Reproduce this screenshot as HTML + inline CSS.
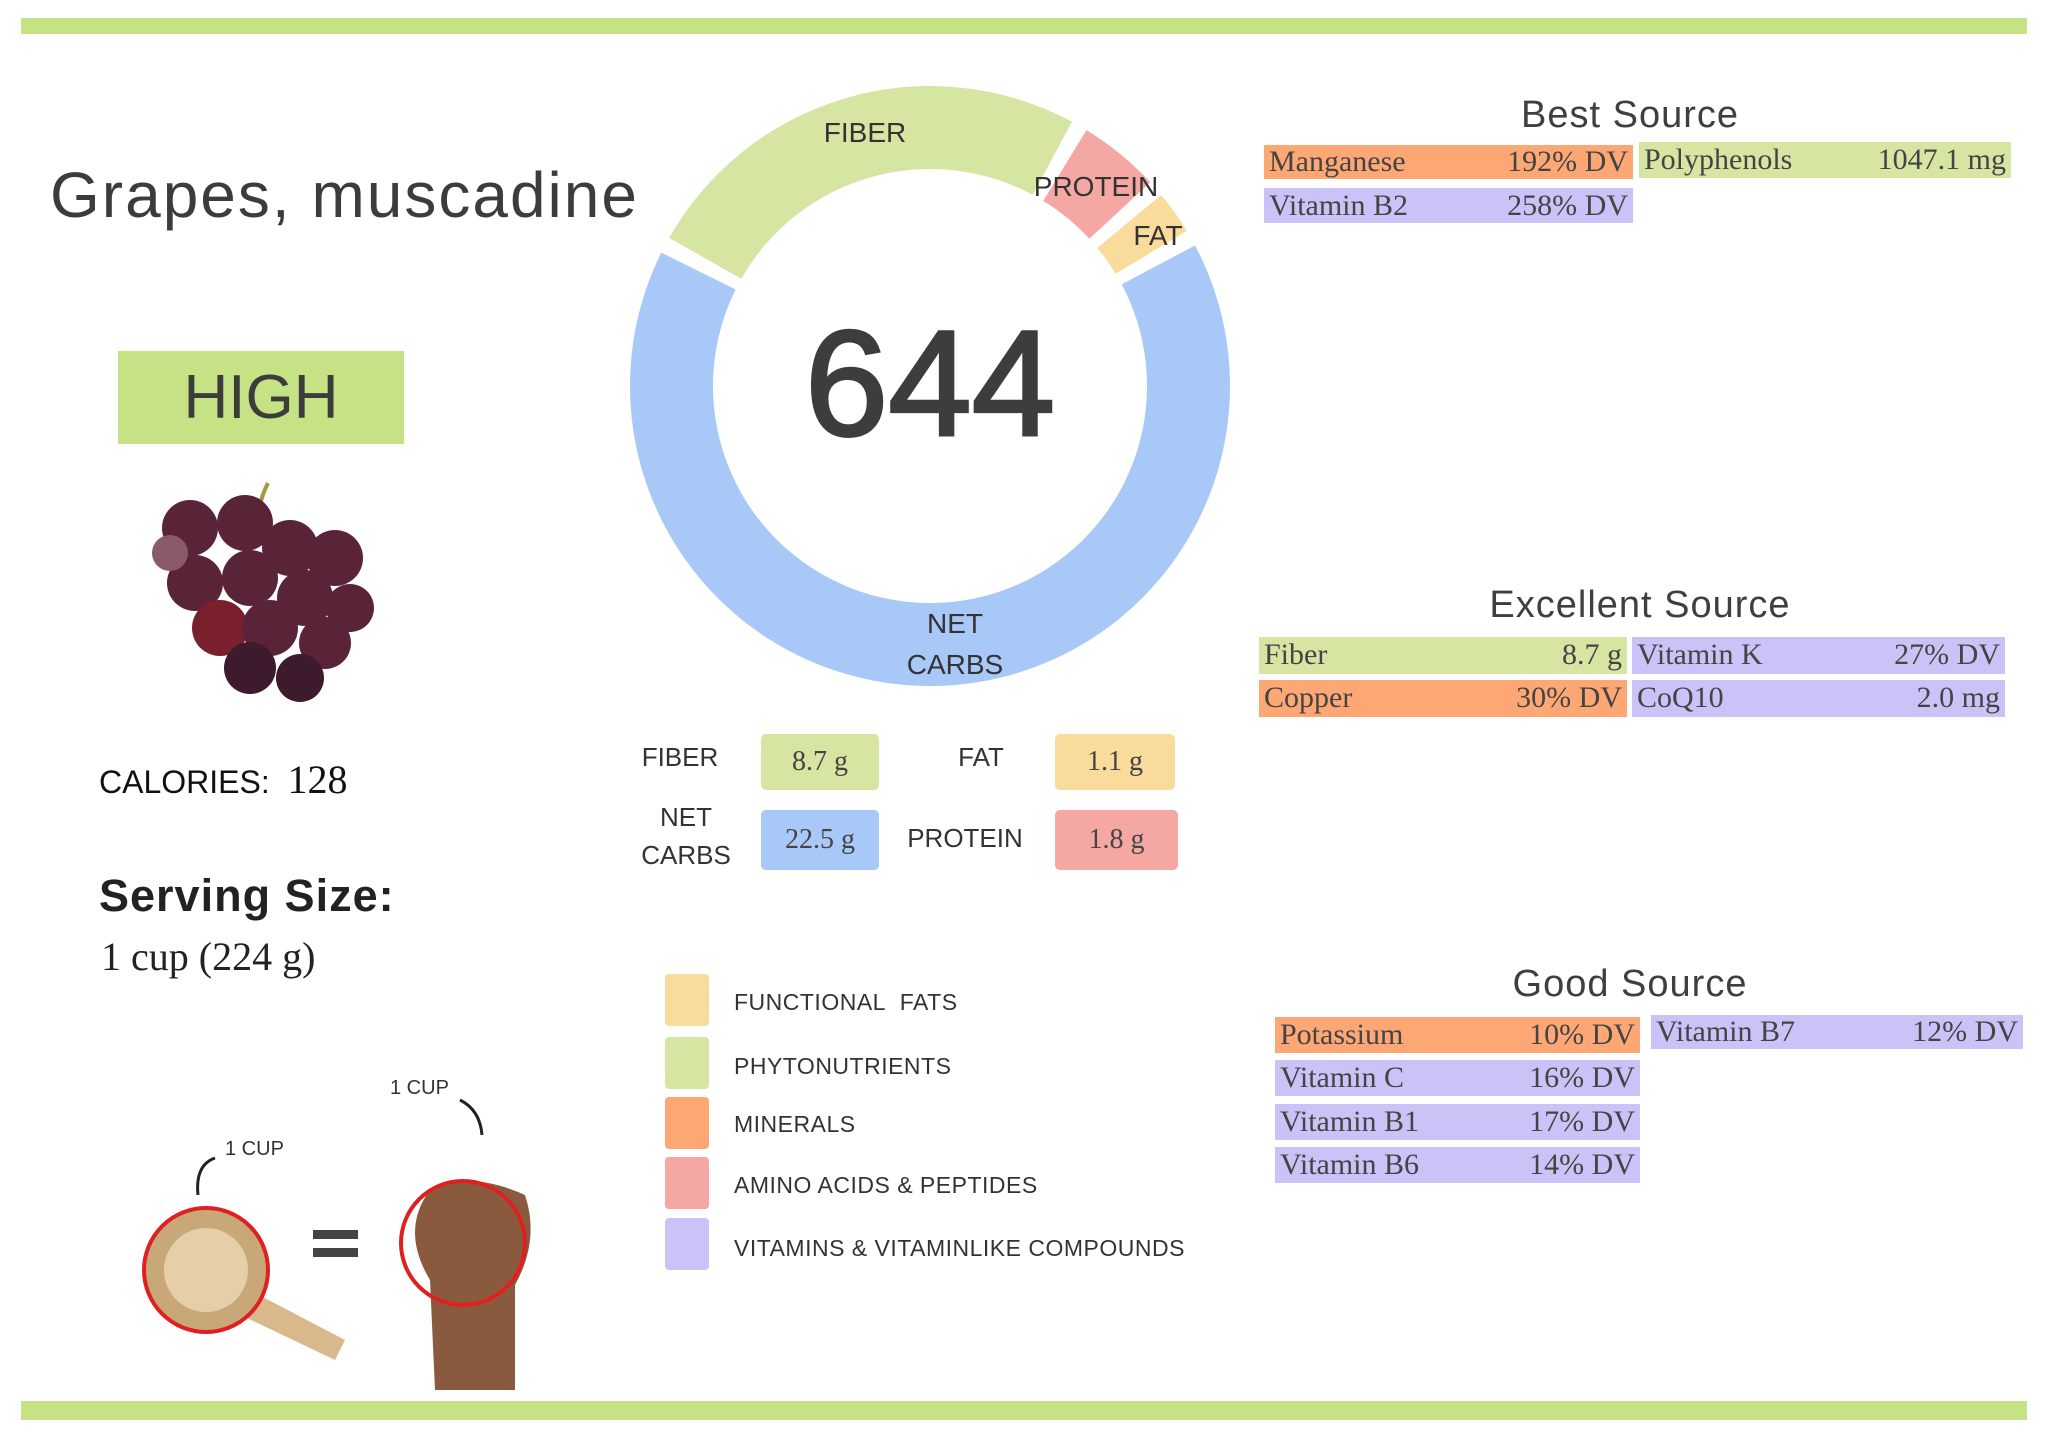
<!DOCTYPE html>
<html><head><meta charset="utf-8"><style>
body{margin:0;background:#fff}
#root{position:relative;width:2048px;height:1441px;overflow:hidden;font-family:"Liberation Sans",sans-serif;color:#3c3c3c}
.abs{position:absolute}
.row{position:absolute;height:36px;font-family:"Liberation Serif",serif;font-size:30px;line-height:36px;color:#444;box-sizing:border-box;padding:0 5px}
.row span{position:absolute;right:5px;top:0}
.or{background:#fda874}.gr{background:#d6e6a2}.pu{background:#cbc3f7}
.h{position:absolute;font-size:38px;text-align:center;width:500px;color:#3f3f3f;letter-spacing:1px}
.lab{position:absolute;font-size:26px;text-align:center;color:#333;line-height:38px}
.box{position:absolute;border-radius:5px;font-family:"Liberation Serif",serif;font-size:28px;text-align:center;color:#444}
.lg{position:absolute;left:665px;width:44px;height:52px;border-radius:4px}
.lt{position:absolute;left:734px;font-size:23px;color:#333;letter-spacing:0.5px}
</style></head><body>
<div id="root">
<div class="abs" style="left:21px;top:18px;width:2006px;height:16px;background:#c5e384"></div>
<div class="abs" style="left:21px;top:1401px;width:2006px;height:19px;background:#c5e384"></div>
<div class="abs" style="left:50px;top:158px;font-size:64px;letter-spacing:2px">Grapes, muscadine</div>
<div class="abs" style="left:118px;top:351px;width:286px;height:93px;background:#c5e384;font-size:62px;line-height:93px;text-align:center">HIGH</div>
<svg class="abs" style="left:150px;top:478px" width="230" height="225" viewBox="0 0 230 225">
<path d="M105 50 Q110 20 118 5" stroke="#a89a3a" stroke-width="4" fill="none"/>
<g fill="#5a2438">
<circle cx="40" cy="50" r="28"/><circle cx="95" cy="45" r="28"/><circle cx="140" cy="70" r="28"/><circle cx="185" cy="80" r="28"/>
<circle cx="45" cy="105" r="28"/><circle cx="100" cy="100" r="28"/><circle cx="155" cy="120" r="28"/><circle cx="200" cy="130" r="24"/>
<circle cx="70" cy="150" r="28" fill="#7a1f2c"/><circle cx="120" cy="150" r="28"/><circle cx="175" cy="165" r="26"/>
<circle cx="100" cy="190" r="26" fill="#3e1a2e"/><circle cx="150" cy="200" r="24" fill="#3e1a2e"/><circle cx="20" cy="75" r="18" fill="#8a5a6a"/>
</g></svg>
<div class="abs" style="left:99px;top:756px;font-size:32px;color:#111">CALORIES:&nbsp; <span style="font-family:'Liberation Serif',serif;font-size:40px">128</span></div>
<div class="abs" style="left:99px;top:870px;font-size:45px;font-weight:bold;color:#222;letter-spacing:1px">Serving Size:</div>
<div class="abs" style="left:101px;top:933px;font-size:40px;font-family:'Liberation Serif',serif;color:#222">1 cup (224 g)</div>
<svg class="abs" style="left:130px;top:1070px" width="420" height="320">
<text x="95" y="85" font-size="20" fill="#333" font-family="Liberation Sans">1 CUP</text>
<text x="260" y="24" font-size="20" fill="#333" font-family="Liberation Sans">1 CUP</text>
<path d="M85 88 Q65 95 68 125" stroke="#222" stroke-width="3" fill="none"/>
<path d="M330 30 Q350 40 352 65" stroke="#222" stroke-width="3" fill="none"/>
<path d="M110 215 L215 270 L205 290 L100 240Z" fill="#d9b98c"/>
<circle cx="76" cy="200" r="62" fill="#c8a879" stroke="#e02020" stroke-width="4"/>
<circle cx="76" cy="200" r="42" fill="#e6cfa8"/>
<rect x="183" y="160" width="45" height="9" fill="#444"/><rect x="183" y="178" width="45" height="9" fill="#444"/>
<path d="M300 120 Q340 100 395 125 Q410 170 385 215 L385 320 L305 320 L300 210 Q270 160 300 120Z" fill="#8a5a3e"/>
<circle cx="333" cy="173" r="62" fill="none" stroke="#e02020" stroke-width="4"/>
</svg>
<svg class="abs" style="left:0;top:0" width="2048" height="720" id="donut"></svg>
<div class="abs" style="left:730px;top:298px;width:400px;text-align:center;font-size:150px;color:#3d3d3d;line-height:170px;-webkit-text-stroke:3px #3d3d3d">644</div>
<div class="lab" style="left:620px;top:738px;width:120px">FIBER</div>
<div class="box gr" style="left:761px;top:734px;width:118px;height:56px;line-height:56px">8.7 g</div>
<div class="lab" style="left:921px;top:738px;width:120px">FAT</div>
<div class="box" style="left:1055px;top:734px;width:120px;height:56px;line-height:56px;background:#f9dc9b">1.1 g</div>
<div class="lab" style="left:626px;top:798px;width:120px">NET<br>CARBS</div>
<div class="box" style="left:761px;top:810px;width:118px;height:60px;line-height:60px;background:#a8c8f8">22.5 g</div>
<div class="lab" style="left:895px;top:819px;width:140px">PROTEIN</div>
<div class="box" style="left:1055px;top:810px;width:123px;height:60px;line-height:60px;background:#f4a7a3">1.8 g</div>
<div class="lg" style="top:974px;background:#f9dc9b"></div>
<div class="lt" style="top:989px">FUNCTIONAL&nbsp; FATS</div>
<div class="lg" style="top:1037px;background:#d6e6a2"></div>
<div class="lt" style="top:1053px">PHYTONUTRIENTS</div>
<div class="lg" style="top:1097px;background:#fda874"></div>
<div class="lt" style="top:1111px">MINERALS</div>
<div class="lg" style="top:1157px;background:#f4a7a3"></div>
<div class="lt" style="top:1172px">AMINO ACIDS &amp; PEPTIDES</div>
<div class="lg" style="top:1218px;background:#cbc3f7"></div>
<div class="lt" style="top:1235px">VITAMINS &amp; VITAMINLIKE COMPOUNDS</div>

<div class="h" style="left:1380px;top:94px">Best Source</div>
<div class="row or" style="left:1264px;top:145px;width:369px;height:34px;line-height:34px">Manganese<span>192% DV</span></div>
<div class="row gr" style="left:1639px;top:142px;width:372px;height:36px;line-height:36px">Polyphenols<span>1047.1 mg</span></div>
<div class="row pu" style="left:1264px;top:188px;width:369px;height:35px;line-height:35px">Vitamin B2<span>258% DV</span></div>

<div class="h" style="left:1390px;top:584px">Excellent Source</div>
<div class="row gr" style="left:1259px;top:637px;width:368px;height:37px">Fiber<span>8.7 g</span></div>
<div class="row pu" style="left:1632px;top:637px;width:373px;height:37px">Vitamin K<span>27% DV</span></div>
<div class="row or" style="left:1259px;top:680px;width:368px;height:37px">Copper<span>30% DV</span></div>
<div class="row pu" style="left:1632px;top:680px;width:373px;height:37px">CoQ10<span>2.0 mg</span></div>

<div class="h" style="left:1380px;top:963px">Good Source</div>
<div class="row or" style="left:1275px;top:1017px;width:365px">Potassium<span>10% DV</span></div>
<div class="row pu" style="left:1651px;top:1015px;width:372px;height:34px;line-height:34px">Vitamin B7<span>12% DV</span></div>
<div class="row pu" style="left:1275px;top:1060px;width:365px">Vitamin C<span>16% DV</span></div>
<div class="row pu" style="left:1275px;top:1104px;width:365px">Vitamin B1<span>17% DV</span></div>
<div class="row pu" style="left:1275px;top:1147px;width:365px">Vitamin B6<span>14% DV</span></div>
</div>
<script>
const categories=["FIBER","PROTEIN","FAT","NET CARBS"];
const sliceValues=[8.7,1.8,1.1,22.5];
const sliceColors=["#d6e6a2","#f4a7a3","#f9dc9b","#a8c8f8"];
const svg=document.getElementById('donut');
const cx=930,cy=386,rO=300,rI=217,start=-62,gap=1.6;
const total=sliceValues.reduce((a,b)=>a+b,0);
function pt(a,r){const t=(a-90)*Math.PI/180;return [cx+r*Math.cos(t),cy+r*Math.sin(t)];}
let a=start;
sliceValues.forEach((v,i)=>{
  const span=v/total*360;const a0=a+gap,a1=a+span-gap;
  const large=(a1-a0)>180?1:0;
  const p1=pt(a0,rO),p2=pt(a1,rO),p3=pt(a1,rI),p4=pt(a0,rI);
  const p=document.createElementNS('http://www.w3.org/2000/svg','path');
  p.setAttribute('d',`M${p1} A${rO} ${rO} 0 ${large} 1 ${p2} L${p3} A${rI} ${rI} 0 ${large} 0 ${p4}Z`);
  p.setAttribute('fill',sliceColors[i]);
  
  
  svg.appendChild(p);
  a+=span;
});
const labels=[["FIBER",865,142],["PROTEIN",1096,196],["FAT",1158,245],["NET",955,633],["CARBS",955,674]];
labels.forEach(l=>{
  const t=document.createElementNS('http://www.w3.org/2000/svg','text');
  t.setAttribute('x',l[1]);t.setAttribute('y',l[2]);t.setAttribute('text-anchor','middle');
  t.setAttribute('font-size','28');t.setAttribute('fill','#333');t.setAttribute('font-family','Liberation Sans');
  
  
  t.textContent=l[0];svg.appendChild(t);
});
</script>
</body></html>
